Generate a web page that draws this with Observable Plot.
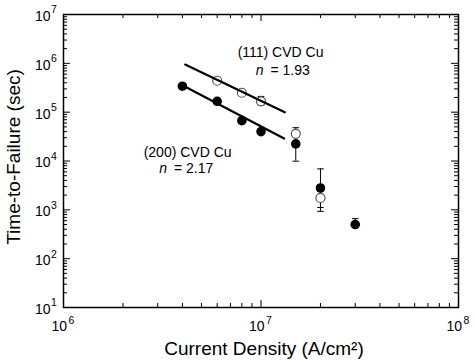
<!DOCTYPE html>
<html><head><meta charset="utf-8">
<script src="https://cdn.jsdelivr.net/npm/d3@7"></script>
<script src="https://cdn.jsdelivr.net/npm/@observablehq/plot@0.6"></script>
<style>body{margin:0;background:#fff} #chart svg{display:block}</style>
</head><body><div id="chart"></div>
<script>
// (111) CVD Cu — open circles
const x111 = [6e6, 8e6, 1e7, 1.5e7, 2e7];
const y111 = [4.4e5, 2.5e5, 1.67e5, 3.6e4, 1.75e3];
// (200) CVD Cu — filled circles
const x200 = [4e6, 6e6, 8e6, 1e7, 1.5e7, 2e7, 3e7];
const y200 = [3.4e5, 1.67e5, 6.7e4, 4.0e4, 2.24e4, 2.8e3, 500];
// error bars
const err111X = [1e7, 1.5e7, 2e7];
const err111Lo = [1.4e5, 3.6e4, 9.3e2];
const err111Hi = [2.1e5, 4.8e4, 1.75e3];
const err200X = [1.5e7, 2e7, 3e7];
const err200Lo = [9.9e3, 1.12e3, 500];
const err200Hi = [2.24e4, 6.9e3, 660];
// power-law fit lines (end points)
const fit111X = [4.13e6, 1.32e7];
const fit111Y = [9.45e5, 9.95e4];
const fit200X = [4.18e6, 1.31e7];
const fit200Y = [3.24e5, 2.88e4];
// annotations
const seriesNames = ["(111) CVD Cu", "(200) CVD Cu"];
const nValues = ["= 1.93", "= 2.17"];
const nameX = [1.256e7, 4.25e6];
const nameY = [1.66e6, 1.52e4];
const nX = [1.072e7, 3.48e6];
const nY = [7.1e5, 6.98e3];
// ticks
const xMajor = [1e6, 1e7, 1e8];
const xTickExp = ["6", "7", "8"];
const yMajor = [1e1, 1e2, 1e3, 1e4, 1e5, 1e6, 1e7];
const yTickExp = ["1", "2", "3", "4", "5", "6", "7"];
const xMinor = [];
for (const d of [1e6, 1e7]) for (let m = 2; m <= 9; m++) xMinor.push(m * d);
const yMinor = [];
for (const d of [1e1, 1e2, 1e3, 1e4, 1e5, 1e6]) for (let m = 2; m <= 9; m++) yMinor.push(m * d);

const xTitle = "Current Density (A/cm²)";
const yTitle = "Time-to-Failure (sec)";

const W = 474, H = 361, ML = 63, MR = 16, MT = 14, MB = 54;
const FW = W - ML - MR, FH = H - MT - MB;
const MAJ = 7, MIN = 4;

const pts111 = x111.map((x, i) => ({x, y: y111[i]}));
const pts200 = x200.map((x, i) => ({x, y: y200[i]}));
const errs = [
  ...err111X.map((x, i) => ({x, lo: err111Lo[i], hi: err111Hi[i]})),
  ...err200X.map((x, i) => ({x, lo: err200Lo[i], hi: err200Hi[i]}))
];
const caps = errs.flatMap(e => [{x: e.x, y: e.lo}, {x: e.x, y: e.hi}]);
const fit111 = fit111X.map((x, i) => ({x, y: fit111Y[i]}));
const fit200 = fit200X.map((x, i) => ({x, y: fit200Y[i]}));
const names = seriesNames.map((t, i) => ({t, x: nameX[i], y: nameY[i]}));
const ns = nValues.map((t, i) => ({t, x: nX[i], y: nY[i]}));

const capSymbol = {draw(ctx, size) { const w = Math.sqrt(size / Math.PI); ctx.moveTo(-w, 0); ctx.lineTo(w, 0); }};

const tickStyle = {stroke: "black", strokeWidth: 1};

const chart = Plot.plot({
  width: W, height: H,
  marginLeft: ML, marginRight: MR, marginTop: MT, marginBottom: MB,
  x: {type: "log", domain: [1e6, 1e8], axis: null},
  y: {type: "log", domain: [10, 1e7], axis: null},
  style: {fontFamily: "'Liberation Sans', Arial, sans-serif", color: "black", background: "white"},
  marks: [
    // inward ticks: bottom, top, left, right
    Plot.ruleX(xMajor, {x: d => d, insetTop: FH - MAJ, ...tickStyle}),
    Plot.ruleX(xMinor, {x: d => d, insetTop: FH - MIN, ...tickStyle}),
    Plot.ruleX(xMajor, {x: d => d, insetBottom: FH - MAJ, ...tickStyle}),
    Plot.ruleX(xMinor, {x: d => d, insetBottom: FH - MIN, ...tickStyle}),
    Plot.ruleY(yMajor, {y: d => d, insetRight: FW - MAJ, ...tickStyle}),
    Plot.ruleY(yMinor, {y: d => d, insetRight: FW - MIN, ...tickStyle}),
    Plot.ruleY(yMajor, {y: d => d, insetLeft: FW - MAJ, ...tickStyle}),
    Plot.ruleY(yMinor, {y: d => d, insetLeft: FW - MIN, ...tickStyle}),
    Plot.frame({stroke: "black", strokeWidth: 1.5}),
    // tick labels
    Plot.text(xMajor, {x: d => d, frameAnchor: "bottom", text: () => "10", textAnchor: "end", lineAnchor: "middle", dx: 3.5, dy: 19, fontSize: 14}),
    Plot.text(xMajor, {x: d => d, frameAnchor: "bottom", text: (d, i) => xTickExp[i], textAnchor: "start", lineAnchor: "middle", dx: 5, dy: 13.5, fontSize: 10.5}),
    Plot.text(yMajor, {y: d => d, frameAnchor: "left", text: () => "10", textAnchor: "end", lineAnchor: "middle", dx: -13, dy: 2, fontSize: 14}),
    Plot.text(yMajor, {y: d => d, frameAnchor: "left", text: (d, i) => yTickExp[i], textAnchor: "start", lineAnchor: "middle", dx: -12.5, dy: -4.5, fontSize: 10.5}),
    // axis titles
    Plot.text([xTitle], {frameAnchor: "bottom", text: d => d, textAnchor: "middle", lineAnchor: "middle", dx: 3, dy: 41, fontSize: 19}),
    Plot.text([yTitle], {frameAnchor: "left", text: d => d, textAnchor: "middle", lineAnchor: "middle", rotate: -90, dx: -50, dy: -4, fontSize: 19}),
    // error bars
    Plot.ruleX(errs, {x: "x", y1: "lo", y2: "hi", stroke: "black", strokeWidth: 1}),
    Plot.dot(caps, {x: "x", y: "y", symbol: capSymbol, r: 3.3, fill: "none", stroke: "black", strokeWidth: 1}),
    // data
    Plot.dot(pts200, {x: "x", y: "y", r: 4.8, fill: "black"}),
    Plot.dot(pts111, {x: "x", y: "y", r: 4.5, fill: "white", stroke: "#555", strokeWidth: 1.2}),
    // fits
    Plot.line(fit111, {x: "x", y: "y", stroke: "black", strokeWidth: 2.2}),
    Plot.line(fit200, {x: "x", y: "y", stroke: "black", strokeWidth: 2.2}),
    // annotations
    Plot.text(names, {x: "x", y: "y", text: "t", fontSize: 14, textAnchor: "middle", lineAnchor: "middle"}),
    Plot.text(ns, {x: "x", y: "y", text: () => "n", fontSize: 14, fontStyle: "italic", textAnchor: "end", lineAnchor: "middle", dx: -3.5}),
    Plot.text(ns, {x: "x", y: "y", text: "t", fontSize: 14, textAnchor: "start", lineAnchor: "middle", dx: 3.5})
  ]
});
document.getElementById("chart").append(chart);
</script>
</body></html>
